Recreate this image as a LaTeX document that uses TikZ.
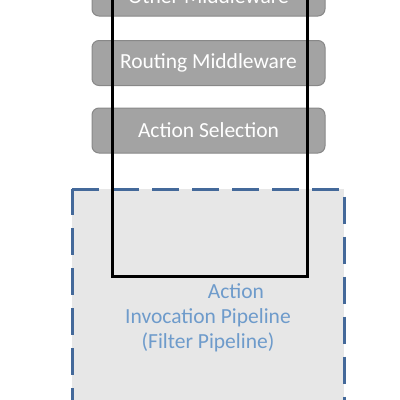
\documentclass[tikz,border=0pt]{standalone}
\usepackage{fontspec}
\setmainfont{Carlito}
\begin{document}
\begin{tikzpicture}[x=1pt,y=-1pt,
  mwbox/.style={draw=boxborder,fill=boxfill,rounded corners=7pt,line width=1pt,
    minimum width=233pt,minimum height=45pt,inner sep=0pt,text=white,font=\fontsize{21.5}{24}\selectfont},
  dashedge/.style={draw=dashblue,line width=3pt,dash pattern=on 27pt off 13pt},
  frame/.style={draw=black,line width=3pt}]
\definecolor{boxfill}{HTML}{A3A3A3}
\definecolor{boxborder}{HTML}{888888}
\definecolor{dashblue}{HTML}{44699A}
\definecolor{areafill}{HTML}{E7E7E7}
\definecolor{textblue}{HTML}{6E9BCB}
\useasboundingbox (0,0) rectangle (400,400);
\clip (0,0) rectangle (400,400);
\node[mwbox,minimum height=40pt] (other) at (208.5,-4) {Other Middleware};
\node[mwbox] (routing) at (208.5,63) {Routing Middleware};
\node[mwbox] (select) at (208.5,130.5) {Action Selection};
\node[fill=areafill,minimum width=272pt,minimum height=240pt,inner sep=0pt,anchor=north west] (aip) at (72,189) {};
\draw[dashedge] (aip.north west) -- (aip.north east) -- (aip.south east);
\draw[dashedge,dash phase=1pt] (aip.north west) -- (aip.south west);
\coordinate (ftl) at (112,-30);
\coordinate (fbr) at (307.5,276.5);
\draw[frame] (ftl) rectangle (fbr);
\node[text=textblue,align=center,font=\fontsize{21.5}{25}\selectfont] (aiptext) at (208,318) {\hspace*{2.6em}Action\\Invocation Pipeline\\(Filter Pipeline)};
\end{tikzpicture}
\end{document}
